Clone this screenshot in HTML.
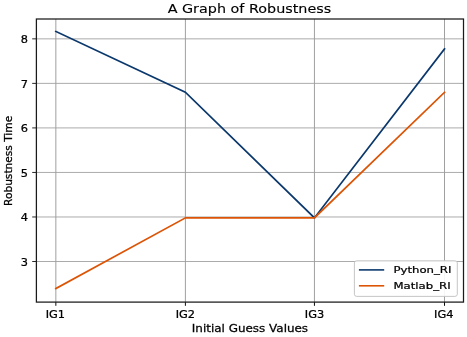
<!DOCTYPE html>
<html><head><meta charset="utf-8"><title>A Graph of Robustness</title>
<style>html,body{margin:0;padding:0;background:#fff;overflow:hidden}svg{display:block;filter:blur(0.3px)}text{font-family:"DejaVu Sans","Liberation Sans",sans-serif;fill:#000;stroke:#000;stroke-width:0.24px}</style>
</head><body>
<svg width="467" height="337" viewBox="0 0 467 337">
<rect width="467" height="337" fill="#fff"/>
<line x1="55.85" x2="55.85" y1="19.0" y2="302.1" stroke="#9c9c9c" stroke-width="0.96"/>
<line x1="185.40" x2="185.40" y1="19.0" y2="302.1" stroke="#9c9c9c" stroke-width="0.96"/>
<line x1="314.45" x2="314.45" y1="19.0" y2="302.1" stroke="#9c9c9c" stroke-width="0.96"/>
<line x1="444.50" x2="444.50" y1="19.0" y2="302.1" stroke="#9c9c9c" stroke-width="0.96"/>
<line x1="36.4" x2="463.5" y1="261.50" y2="261.50" stroke="#9c9c9c" stroke-width="0.85"/>
<line x1="36.4" x2="463.5" y1="216.97" y2="216.97" stroke="#9c9c9c" stroke-width="0.85"/>
<line x1="36.4" x2="463.5" y1="172.44" y2="172.44" stroke="#9c9c9c" stroke-width="0.85"/>
<line x1="36.4" x2="463.5" y1="127.91" y2="127.91" stroke="#9c9c9c" stroke-width="0.85"/>
<line x1="36.4" x2="463.5" y1="83.38" y2="83.38" stroke="#9c9c9c" stroke-width="0.85"/>
<line x1="36.4" x2="463.5" y1="38.85" y2="38.85" stroke="#9c9c9c" stroke-width="0.85"/>
<polyline transform="scale(1.1960 1.0620)" points="46.699,29.663 155.022,86.898 262.928,205.142 371.669,46.016" fill="none" stroke="#0b386c" stroke-width="1.5" stroke-linecap="square" stroke-linejoin="round"/>
<polyline transform="scale(1.1960 1.0620)" points="46.699,271.685 155.022,205.142 262.928,205.142 371.669,86.898" fill="none" stroke="#dc5405" stroke-width="1.5" stroke-linecap="square" stroke-linejoin="round"/>
<line x1="55.85" x2="55.85" y1="302.1" y2="305.82" stroke="#000" stroke-width="0.96"/>
<text transform="translate(55.35 317.90) scale(1.1362 0.9770)" font-size="10" text-anchor="middle">IG1</text>
<line x1="185.40" x2="185.40" y1="302.1" y2="305.82" stroke="#000" stroke-width="0.96"/>
<text transform="translate(185.40 317.90) scale(1.1362 0.9770)" font-size="10" text-anchor="middle">IG2</text>
<line x1="314.45" x2="314.45" y1="302.1" y2="305.82" stroke="#000" stroke-width="0.96"/>
<text transform="translate(314.45 317.90) scale(1.1362 0.9770)" font-size="10" text-anchor="middle">IG3</text>
<line x1="444.50" x2="444.50" y1="302.1" y2="305.82" stroke="#000" stroke-width="0.96"/>
<text transform="translate(443.70 317.90) scale(1.1362 0.9770)" font-size="10" text-anchor="middle">IG4</text>
<line x1="32.21" x2="36.4" y1="261.50" y2="261.50" stroke="#000" stroke-width="0.85"/>
<text transform="translate(28.03 265.88) scale(1.1362 0.9770)" font-size="10" text-anchor="end">3</text>
<line x1="32.21" x2="36.4" y1="216.97" y2="216.97" stroke="#000" stroke-width="0.85"/>
<text transform="translate(28.03 221.35) scale(1.1362 0.9770)" font-size="10" text-anchor="end">4</text>
<line x1="32.21" x2="36.4" y1="172.44" y2="172.44" stroke="#000" stroke-width="0.85"/>
<text transform="translate(28.03 176.82) scale(1.1362 0.9770)" font-size="10" text-anchor="end">5</text>
<line x1="32.21" x2="36.4" y1="127.91" y2="127.91" stroke="#000" stroke-width="0.85"/>
<text transform="translate(28.03 132.29) scale(1.1362 0.9770)" font-size="10" text-anchor="end">6</text>
<line x1="32.21" x2="36.4" y1="83.38" y2="83.38" stroke="#000" stroke-width="0.85"/>
<text transform="translate(28.03 87.76) scale(1.1362 0.9770)" font-size="10" text-anchor="end">7</text>
<line x1="32.21" x2="36.4" y1="38.85" y2="38.85" stroke="#000" stroke-width="0.85"/>
<text transform="translate(28.03 43.23) scale(1.1362 0.9770)" font-size="10" text-anchor="end">8</text>
<rect x="36.4" y="19.0" width="427.1" height="283.10" fill="none" stroke="#1a1a1a" stroke-width="1.25"/>
<text transform="translate(249.40 12.50) scale(1.1960 1.0620)" font-size="12" text-anchor="middle" style="stroke-width:0.12px">A Graph of Robustness</text>
<text transform="translate(249.95 331.60) scale(1.1960 1.0620)" font-size="10" text-anchor="middle">Initial Guess Values</text>
<text transform="translate(11.70 160.90) scale(1.1362 1.0620) rotate(-90)" font-size="10" text-anchor="middle">Robustness Time</text>
<rect x="354.40" y="260.80" width="102.90" height="35.60" rx="2.39" ry="2.12" fill="#fff" fill-opacity="0.9" stroke="#c0c0c0" stroke-width="0.90"/>
<line x1="358.90" x2="384.20" y1="269.90" y2="269.90" stroke="#0b386c" stroke-width="1.59"/>
<text transform="translate(393.40 273.22) scale(1.1720 0.9558)" font-size="10" text-anchor="start">Python_RI</text>
<line x1="358.90" x2="384.20" y1="285.80" y2="285.80" stroke="#dc5405" stroke-width="1.59"/>
<text transform="translate(393.40 289.02) scale(1.1720 0.9558)" font-size="10" text-anchor="start">Matlab_RI</text>
</svg>
</body></html>
